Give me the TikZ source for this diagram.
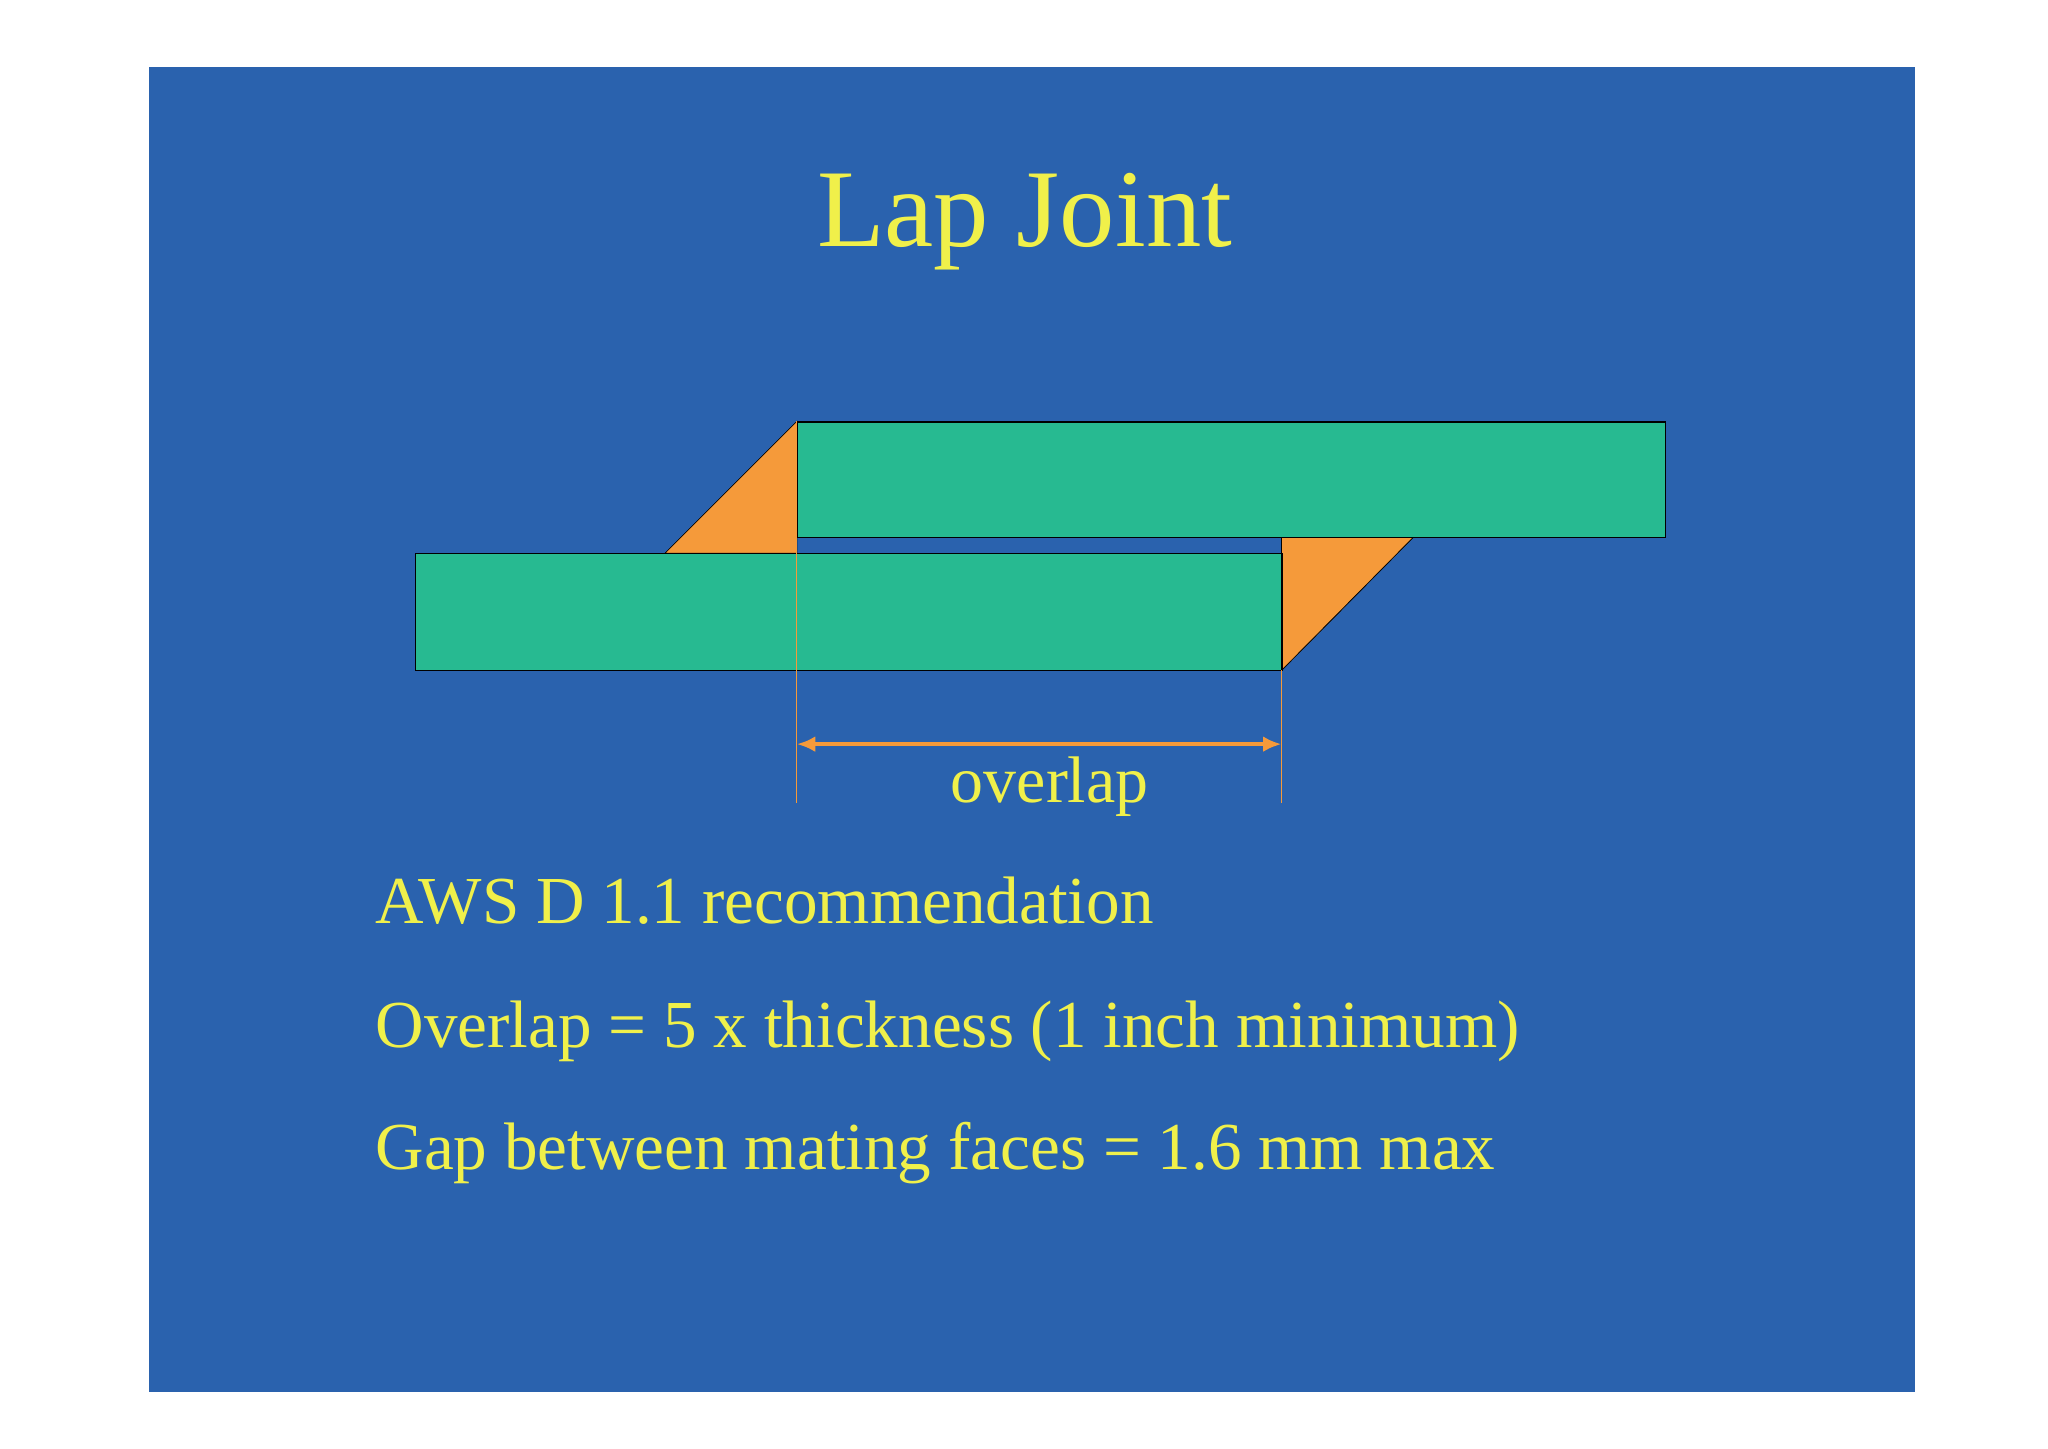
\documentclass[tikz,border=0pt]{standalone}
\usepackage{fontspec}
\setmainfont{Liberation Serif}
\usetikzlibrary{arrows.meta}
\definecolor{bg}{HTML}{2A62AE}
\definecolor{plate}{HTML}{27BA91}
\definecolor{weld}{HTML}{F59A3A}
\definecolor{ylw}{HTML}{F0F04A}
\begin{document}
\begin{tikzpicture}[x=1pt,y=-1pt,
  platebox/.style={fill=plate,draw=black,line width=0.8pt},
  weldfill/.style={fill=weld,draw=black,line width=0.5pt},
  txt/.style={text=ylw,inner sep=0pt}]
\useasboundingbox (0,0) rectangle (1555,1100);
\fill[white] (0,0) rectangle (1555,1100);
\fill[bg] (113,51) rectangle (1454,1057);
\node[txt,font=\fontsize{84}{90}\selectfont] (title) at (778,168) {Lap Joint};
\fill[weldfill] (505,420) -- (605,320) -- (605,420) -- cycle;
\fill[weldfill] (973,408) -- (1073,408) -- (973,509) -- cycle;
\draw[weldfill] (505,420) -- (605,320) -- (605,420) -- cycle;
\draw[weldfill] (973,408) -- (1073,408) -- (973,509) -- cycle;
\node[platebox,minimum width=658pt,minimum height=89pt,inner sep=0pt,anchor=north west] (lower) at (315,420) {};
\node[platebox,minimum width=659pt,minimum height=88pt,inner sep=0pt,anchor=north west] (upper) at (605,320) {};
\coordinate (l1) at (605,320); \coordinate (l2) at (605,610);
\coordinate (r1) at (973,509); \coordinate (r2) at (973,610);
\draw[weld,line width=0.8pt] (l1) -- (l2);
\draw[weld,line width=0.8pt] (r1) -- (r2);
\coordinate (a1) at (605,565); \coordinate (a2) at (973,565);
\draw[weld,line width=3pt,{Latex[length=14pt,width=12pt]}-{Latex[length=14pt,width=12pt]}] (a1) -- (a2);
\node[txt,font=\fontsize{50}{56}\selectfont] (ov) at (797,597) {overlap};
\node[txt,anchor=base west,font=\fontsize{51}{56}\selectfont] (t1) at (285,701) {AWS D 1.1 recommendation};
\node[txt,anchor=base west,font=\fontsize{51}{56}\selectfont] (t2) at (285,795) {Overlap = 5 x thickness (1 inch minimum)};
\node[txt,anchor=base west,font=\fontsize{51}{56}\selectfont] (t3) at (285,888) {Gap between mating faces = 1.6 mm max};
\end{tikzpicture}
\end{document}
